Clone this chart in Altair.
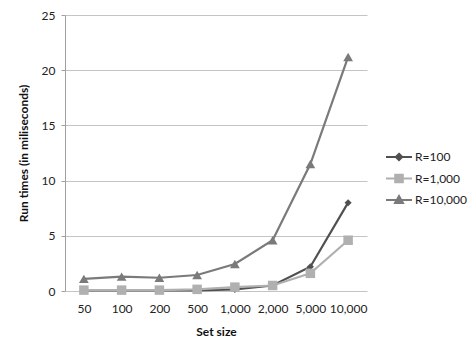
import altair as alt
import pandas as pd

set_sizes = ["50", "100", "200", "500", "1,000", "2,000", "5,000", "10,000"]
series = ["R=100", "R=1,000", "R=10,000"]
r100 = [0.05, 0.05, 0.05, 0.05, 0.15, 0.5, 2.2, 8.0]
r1000 = [0.08, 0.08, 0.08, 0.15, 0.35, 0.5, 1.6, 4.6]
r10000 = [1.1, 1.3, 1.2, 1.45, 2.45, 4.6, 11.5, 21.2]

colors = ["#505050", "#b0b0b0", "#7a7a7a"]
shapes = ["diamond", "square", "triangle-up"]
sizes = [50, 90, 95]
legend_paths = [
    "M-1.3,0L1.3,0M0,-0.32L0.32,0L0,0.32L-0.32,0Z",
    "M-1.3,0L1.3,0M-0.38,-0.38L0.38,-0.38L0.38,0.38L-0.38,0.38Z",
    "M-1.3,0L1.3,0M0,-0.4L0.4,0.3L-0.4,0.3Z",
]

rows = []
for s, vals in zip(series, [r100, r1000, r10000]):
    for k, v in zip(set_sizes, vals):
        rows.append({"size": k, "series": s, "value": v})
df = pd.DataFrame(rows)

FONT = "Lato"

x_enc = alt.X(
    "size:N",
    sort=set_sizes,
    scale=alt.Scale(type="point", padding=0.5),
    axis=alt.Axis(
        title="Set size", labelAngle=0, ticks=False, domain=False, grid=False,
        labelPadding=12, titlePadding=12, labelFont=FONT, labelFontSize=12,
        labelColor="#222", titleFont=FONT, titleFontSize=12, titleFontWeight="bold",
        titleColor="#111",
    ),
)
y_enc = alt.Y(
    "value:Q",
    scale=alt.Scale(domain=[0, 25]),
    axis=alt.Axis(
        title="Run times (in miliseconds)", values=[0, 5, 10, 15, 20, 25],
        tickSize=4, tickColor="#a0a0a0", domainColor="#a0a0a0", gridColor="#c4c4c4",
        labelPadding=6, titlePadding=11, labelFont=FONT, labelFontSize=12,
        labelColor="#222", titleFont=FONT, titleFontSize=12, titleFontWeight="bold",
        titleColor="#111",
    ),
)

layers = []
for s, c, sh, sz in zip(series, colors, shapes, sizes):
    base = alt.Chart(df).transform_filter(alt.datum.series == s)
    layers.append(base.mark_line(color=c, strokeWidth=2.2).encode(x=x_enc, y=y_enc))
    layers.append(
        base.mark_point(filled=True, color=c, shape=sh, size=sz, opacity=1).encode(x=x_enc, y=y_enc)
    )

leg = alt.Legend(
    title=None, orient="none", legendX=323, legendY=131, padding=0,
    symbolSize=400, symbolStrokeWidth=2, symbolOpacity=1, rowPadding=2.5,
    labelOffset=5, labelFont=FONT, labelFontSize=12, labelColor="#222",
)
legend_layer = alt.Chart(df).mark_point(filled=True, opacity=0, strokeWidth=2).encode(
    x=x_enc,
    y=y_enc,
    fill=alt.Fill("series:N", scale=alt.Scale(domain=series, range=colors), legend=leg),
    stroke=alt.Stroke("series:N", scale=alt.Scale(domain=series, range=colors), legend=leg),
    shape=alt.Shape("series:N", scale=alt.Scale(domain=series, range=legend_paths), legend=leg),
)
layers.append(legend_layer)

chart = (
    alt.layer(*layers)
    .properties(
        width=302, height=276,
        autosize=alt.AutoSizeParams(type="none"),
        padding={"left": 65, "top": 15, "right": 107, "bottom": 67},
        background="white",
    )
    .configure_view(strokeWidth=0)
)

chart.save("out.html", embed_options={"renderer": "svg", "actions": False})
